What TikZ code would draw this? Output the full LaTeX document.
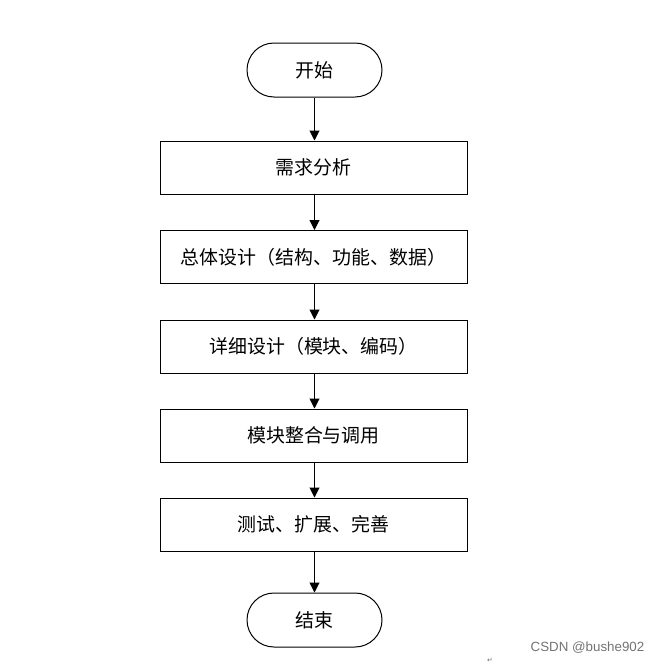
\documentclass[tikz,border=0pt]{standalone}
\usepackage{fontspec}
\newfontfamily\cjk{Noto Sans CJK SC}
\newfontfamily\dejavu{DejaVu Sans}
\setsansfont{Liberation Sans}
\usetikzlibrary{arrows.meta,shapes.misc}
\begin{document}
\begin{tikzpicture}[x=0.75pt,y=-0.75pt,
  every node/.style={font=\cjk\fontsize{14.2}{16}\selectfont},
  terminal/.style={draw,line width=0.75pt,rounded rectangle,minimum width=135*0.75pt,minimum height=54*0.75pt,inner sep=0pt},
  stepbox/.style={draw,line width=0.75pt,rectangle,minimum width=307*0.75pt,minimum height=53*0.75pt,inner sep=0pt},
  flow/.style={line width=0.75pt,-{Triangle[width=7.5pt,length=7.5pt]}}]
\useasboundingbox (0,0) rectangle (659,664);
\node[terminal] (s) at (314.5,70) {开始};
\node[stepbox] (b1) at (313.5,167.5) {需求分析};
\node[stepbox] (b2) at (313.5,257) {总体设计（结构、功能、数据）};
\node[stepbox] (b3) at (313.5,346.5) {详细设计（模块、编码）};
\node[stepbox] (b4) at (313.5,435.5) {模块整合与调用};
\node[stepbox] (b5) at (313.5,524.5) {测试、扩展、完善};
\node[terminal] (e) at (314.5,620) {结束};
\draw[flow] (s.south) -- (s.south |- b1.north);
\draw[flow] (s.south |- b1.south) -- (s.south |- b2.north);
\draw[flow] (s.south |- b2.south) -- (s.south |- b3.north);
\draw[flow] (s.south |- b3.south) -- (s.south |- b4.north);
\draw[flow] (s.south |- b4.south) -- (s.south |- b5.north);
\draw[flow] (s.south |- b5.south) -- (e.north);
\node[font=\sffamily\fontsize{10}{12}\selectfont,text=black!55] (wm) at (587.5,648) {CSDN @bushe902};
\node[font=\dejavu\fontsize{5}{6}\selectfont,text=black!60] (rt) at (490,660) {↵};
\end{tikzpicture}
\end{document}
